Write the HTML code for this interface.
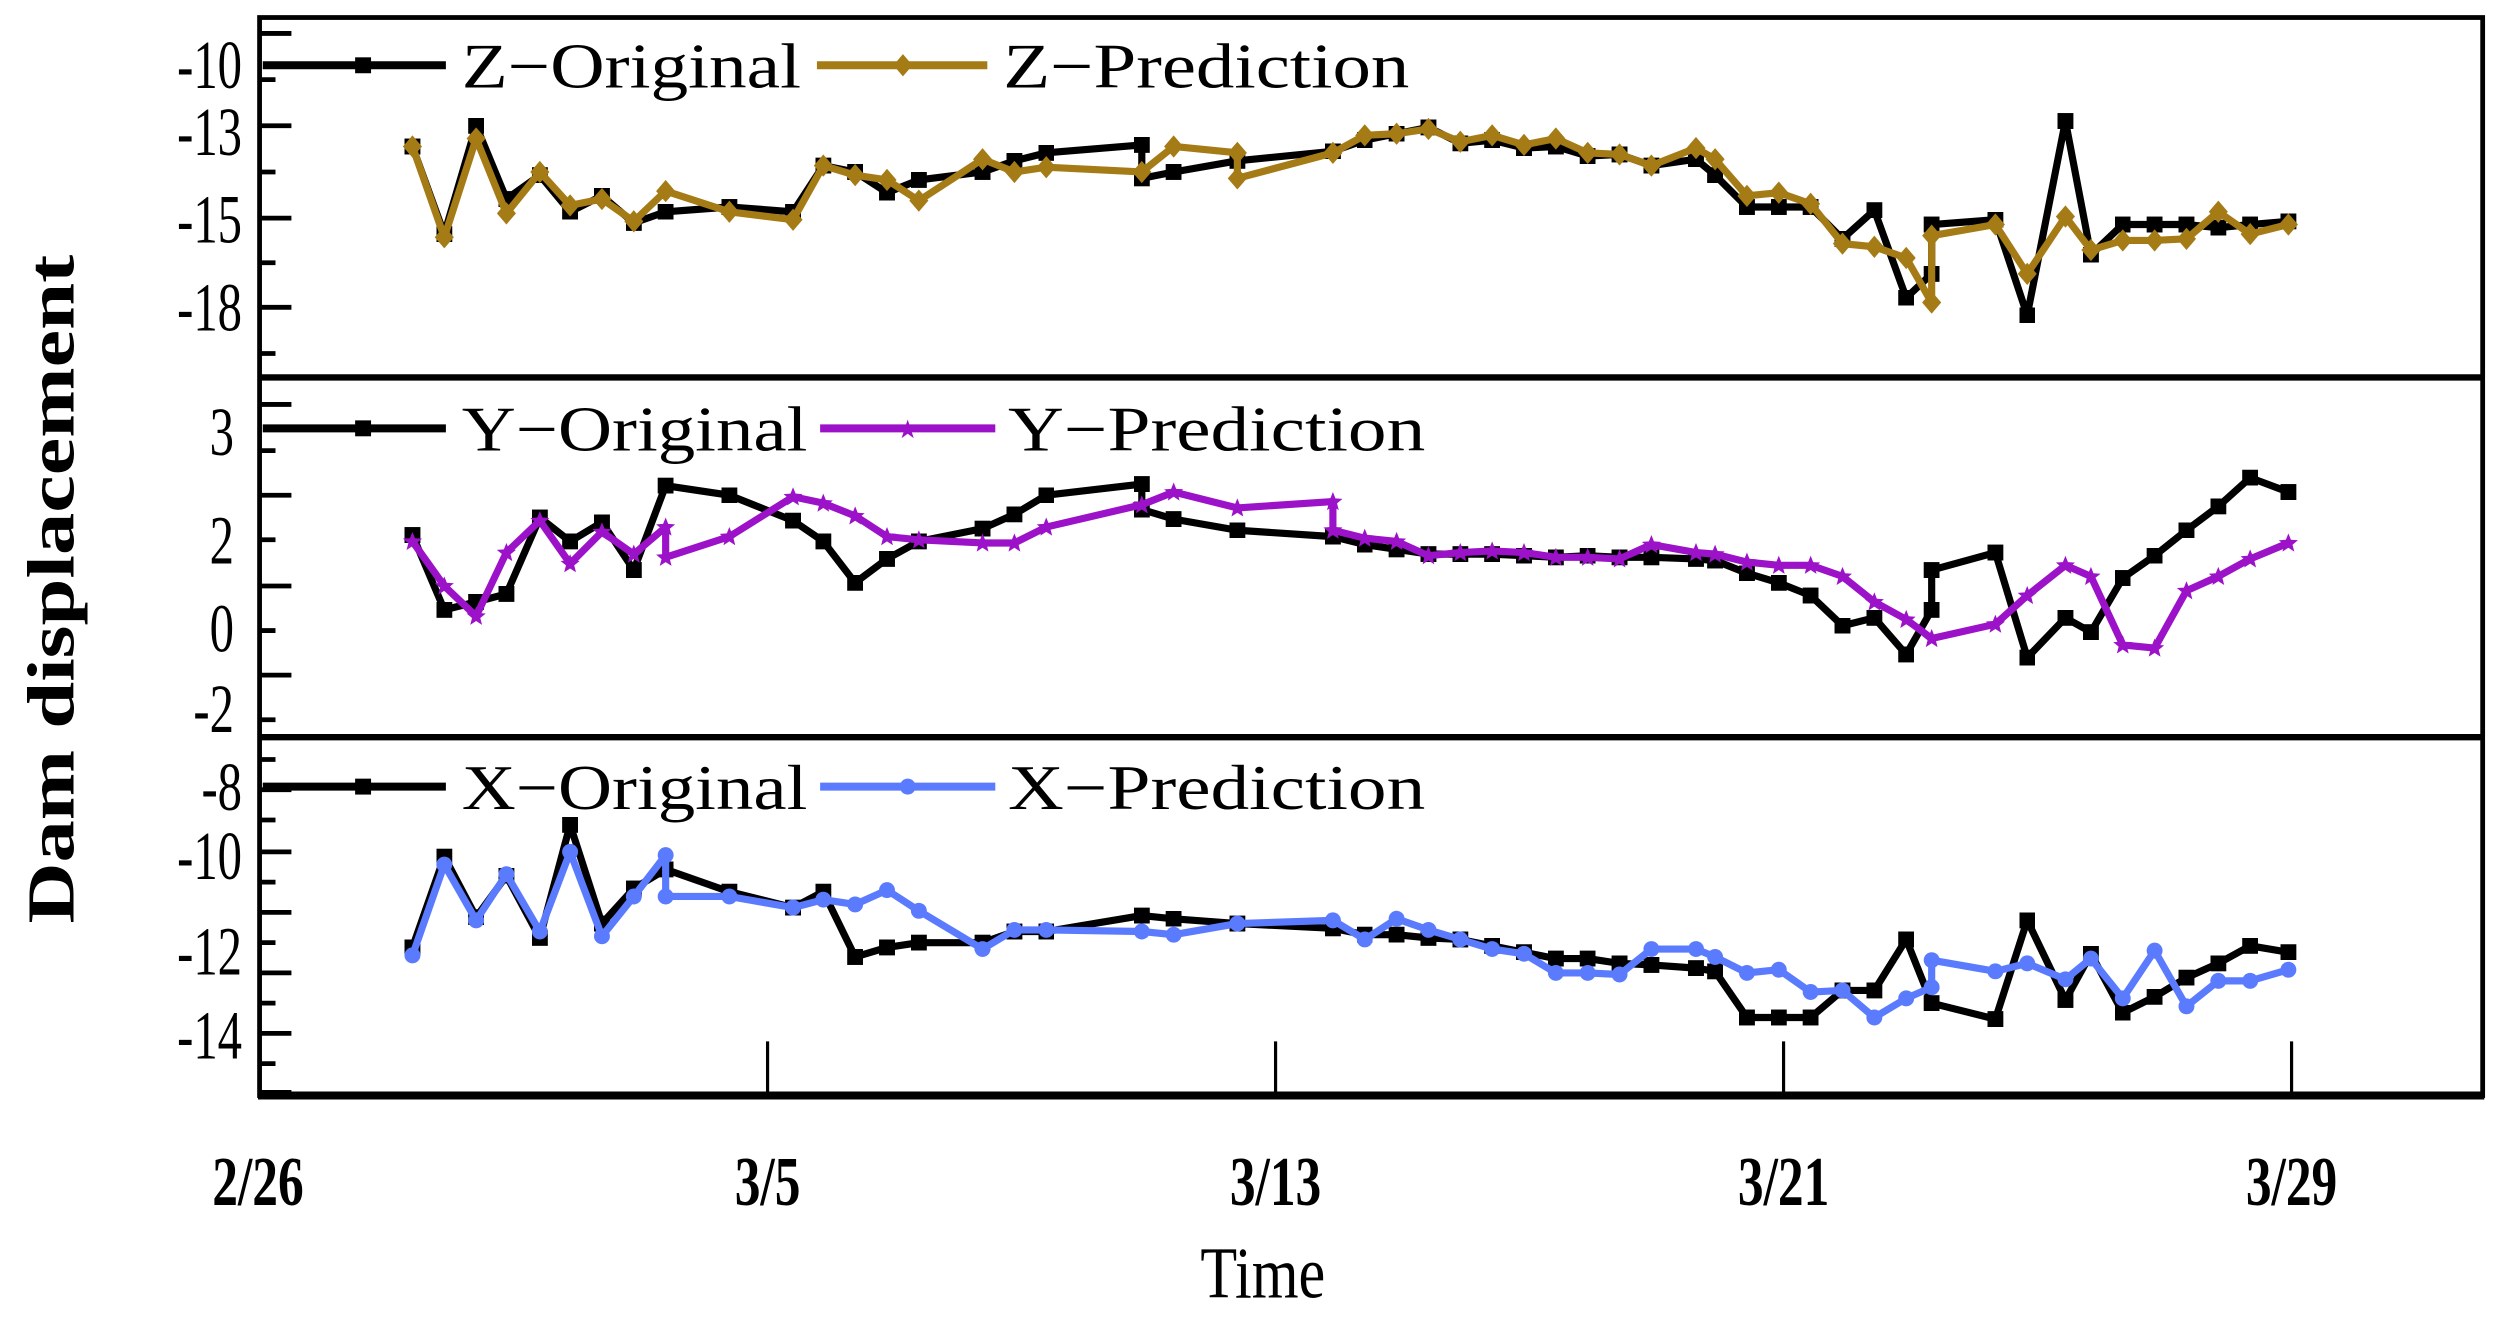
<!DOCTYPE html>
<html><head><meta charset="utf-8"><style>html,body{margin:0;padding:0;background:#fff}svg{display:block}</style></head><body>
<svg width="2497" height="1328" viewBox="0 0 1568 834" preserveAspectRatio="none" xmlns="http://www.w3.org/2000/svg" font-family="Liberation Serif, serif">
<rect width="1568" height="834" fill="#fff"/>
<g stroke="#000" fill="none">
<rect x="163" y="11" width="1396" height="677" stroke-width="3"/>
<line x1="162" y1="237" x2="1560" y2="237" stroke-width="4"/>
<line x1="162" y1="463" x2="1560" y2="463" stroke-width="4"/>
<line x1="162" y1="688" x2="1560" y2="688" stroke-width="5"/>
<path d="M163 21h20M163 79h20M163 137h20M163 193h20M163 50h10M163 108h10M163 165h10M163 222h10" stroke-width="3"/>
<path d="M163 254h20M163 283h10M163 311h20M163 339h10M163 368h20M163 396h10M163 424h20M163 452h10" stroke-width="3"/>
<path d="M163 477h10M163 496h20M163 515h10M163 535h20M163 554h10M163 573h20M163 592h10M163 611h20M163 630h10M163 649h20M163 668h10M163 686h20" stroke-width="3"/>
<path d="M482 688v-34M801 688v-34M1120 688v-34M1439 688v-34" stroke-width="2"/>
</g>
<g font-size="36" text-anchor="end" fill="#000">
<g transform="translate(152,0) scale(0.85,1.2)">
<text x="0" y="46">-10</text><text x="0" y="81">-13</text><text x="0" y="127">-15</text><text x="0" y="173">-18</text>
<text x="-6" y="238">3</text><text x="-6" y="295">2</text><text x="-6" y="341">0</text><text x="-6" y="383">-2</text>
<text x="0" y="424">-8</text><text x="0" y="460">-10</text><text x="0" y="510">-12</text><text x="0" y="554">-14</text>
</g>
</g>
<g font-size="38" font-weight="bold" text-anchor="middle">
<g transform="translate(0,0) scale(1,1.15)">
<text x="162" y="658" transform="translate(162,0) scale(0.85,1) translate(-162,0)">2/26</text>
<text x="482" y="658" transform="translate(482,0) scale(0.85,1) translate(-482,0)">3/5</text>
<text x="801" y="658" transform="translate(801,0) scale(0.85,1) translate(-801,0)">3/13</text>
<text x="1120" y="658" transform="translate(1120,0) scale(0.85,1) translate(-1120,0)">3/21</text>
<text x="1439" y="658" transform="translate(1439,0) scale(0.85,1) translate(-1439,0)">3/29</text>
</g>
</g>
<text x="793" y="815" font-size="42" text-anchor="middle" transform="translate(793,815) scale(0.9,1.1) translate(-793,-815)">Time</text>
<text transform="translate(46,370) rotate(-90)" font-size="42" font-weight="bold" text-anchor="middle" textLength="420" lengthAdjust="spacingAndGlyphs">Dam displacement</text>

<g font-size="40">
<line x1="165" y1="41" x2="280" y2="41" stroke="#000" stroke-width="5"/><rect x="223" y="36" width="10" height="10"/>
<text x="290" y="55" textLength="213" lengthAdjust="spacingAndGlyphs">Z−Original</text>
<line x1="513" y1="41" x2="620" y2="41" stroke="#a57b16" stroke-width="5"/><path d="M567 34l6 7-6 7-6-7z" fill="#a57b16"/>
<text x="630" y="55" textLength="255" lengthAdjust="spacingAndGlyphs">Z−Prediction</text>
<line x1="165" y1="269" x2="280" y2="269" stroke="#000" stroke-width="5"/><rect x="223" y="264" width="10" height="10"/>
<text x="290" y="283" textLength="217" lengthAdjust="spacingAndGlyphs">Y−Original</text>
<line x1="515" y1="269" x2="625" y2="269" stroke="#9b12c9" stroke-width="5"/><text x="570" y="275" font-size="16" fill="#9b12c9" text-anchor="middle">★</text>
<text x="633" y="283" textLength="262" lengthAdjust="spacingAndGlyphs">Y−Prediction</text>
<line x1="165" y1="494" x2="280" y2="494" stroke="#000" stroke-width="5"/><rect x="223" y="489" width="10" height="10"/>
<text x="290" y="508" textLength="217" lengthAdjust="spacingAndGlyphs">X−Original</text>
<line x1="515" y1="494" x2="625" y2="494" stroke="#5b7bff" stroke-width="5"/><circle cx="570" cy="494" r="5" fill="#5b7bff"/>
<text x="633" y="508" textLength="262" lengthAdjust="spacingAndGlyphs">X−Prediction</text>
</g>

<defs>
<marker id="sq" markerWidth="10" markerHeight="10" refX="5" refY="5" markerUnits="userSpaceOnUse"><rect width="10" height="10" fill="#000"/></marker>
<marker id="dm" markerWidth="12" markerHeight="14" refX="6" refY="7" markerUnits="userSpaceOnUse"><path d="M6 0l6 7-6 7-6-7z" fill="#a57b16"/></marker>
<marker id="st" markerWidth="12" markerHeight="12" refX="6" refY="6" markerUnits="userSpaceOnUse"><path d="M6 0l1.6 4 4.4 .3-3.4 2.8 1.1 4.3L6 9 2.3 11.4l1.1-4.3L0 4.3 4.4 4z" fill="#9b12c9"/></marker>
<marker id="ci" markerWidth="12" markerHeight="12" refX="6" refY="6" markerUnits="userSpaceOnUse"><circle cx="6" cy="6" r="5" fill="#5b7bff"/></marker>
</defs>
<g fill="none" stroke-width="4.5" stroke-linejoin="round">
<polyline stroke="#000" marker-start="url(#sq)" marker-mid="url(#sq)" marker-end="url(#sq)" points="259,92 279,147 299,79 318,125 339,110 358,133 378,123 398,140 418,133 458,130 498,133 517,104 537,108 557,121 577,113 617,108 637,101 657,96 717,91 717,112 737,108 777,101 837,95 857,88 877,84 897,80 917,90 937,88 957,93 977,92 997,98 1017,97 1037,104 1065,100 1077,110 1097,130 1117,130 1137,130 1157,150 1177,132 1197,187 1213,172 1213,141 1253,138 1273,198 1297,76 1313,160 1333,141 1353,141 1373,141 1393,143 1413,141 1437,139"/>
<polyline stroke="#a57b16" marker-start="url(#dm)" marker-mid="url(#dm)" marker-end="url(#dm)" points="259,92 279,149 299,87 318,134 339,108 358,129 378,125 398,139 418,120 458,133 498,138 517,104 537,110 557,113 577,126 617,100 637,108 657,105 717,108 737,92 777,96 777,112 837,96 857,85 877,84 897,81 917,89 937,85 957,91 977,87 997,96 1017,97 1037,104 1065,93 1077,100 1097,123 1117,121 1137,128 1157,153 1177,155 1197,162 1213,190 1213,148 1253,141 1273,172 1297,136 1313,157 1333,151 1353,151 1373,150 1393,133 1413,147 1437,141"/>
<polyline stroke="#000" marker-start="url(#sq)" marker-mid="url(#sq)" marker-end="url(#sq)" points="259,336 279,383 299,378 318,373 339,325 358,340 378,328 398,358 418,305 458,311 498,327 517,340 537,366 557,351 577,340 617,332 637,323 657,311 717,304 717,320 737,326 777,333 837,337 857,342 877,345 897,348 917,348 937,348 957,349 977,350 997,349 1017,350 1037,350 1065,351 1077,352 1097,360 1117,366 1137,374 1157,393 1177,388 1197,411 1213,383 1213,358 1253,347 1273,413 1297,388 1313,397 1333,363 1353,349 1373,333 1393,318 1413,300 1437,309"/>
<polyline stroke="#9b12c9" marker-start="url(#st)" marker-mid="url(#st)" marker-end="url(#st)" points="259,340 279,368 299,387 318,347 339,327 358,354 378,334 398,348 418,331 418,350 458,337 498,312 517,316 537,324 557,337 577,339 617,341 637,341 657,331 717,317 737,309 777,319 837,315 837,333 857,338 877,340 897,349 917,347 937,346 957,347 977,350 997,350 1017,351 1037,342 1065,347 1077,348 1097,353 1117,355 1137,355 1157,362 1177,378 1197,389 1213,401 1253,392 1273,374 1297,355 1313,362 1333,405 1353,407 1373,371 1393,362 1413,351 1437,341"/>
<polyline stroke="#000" marker-start="url(#sq)" marker-mid="url(#sq)" marker-end="url(#sq)" points="259,595 279,538 299,576 318,550 339,589 358,518 378,580 398,558 418,546 458,560 498,570 517,560 537,601 557,595 577,592 617,592 637,585 657,585 717,575 737,577 777,580 837,583 857,587 877,587 897,589 917,590 937,594 957,598 977,602 997,602 1017,605 1037,606 1065,608 1077,610 1097,639 1117,639 1137,639 1157,622 1177,622 1197,590 1213,630 1253,640 1273,578 1297,628 1313,599 1333,636 1353,626 1373,614 1393,605 1413,594 1437,598"/>
<polyline stroke="#5b7bff" marker-start="url(#ci)" marker-mid="url(#ci)" marker-end="url(#ci)" points="259,600 279,543 299,578 318,549 339,585 358,535 378,588 398,563 418,537 418,563 458,563 498,570 517,565 537,568 557,559 577,572 617,596 637,584 657,584 717,585 737,587 777,580 837,578 857,590 877,577 897,584 917,590 937,596 957,599 977,611 997,611 1017,612 1037,596 1065,596 1077,601 1097,611 1117,609 1137,623 1157,622 1177,639 1197,627 1213,620 1213,603 1253,610 1273,605 1297,615 1313,602 1333,627 1353,597 1373,632 1393,616 1413,616 1437,609"/>
</g>
</svg>
</body></html>
